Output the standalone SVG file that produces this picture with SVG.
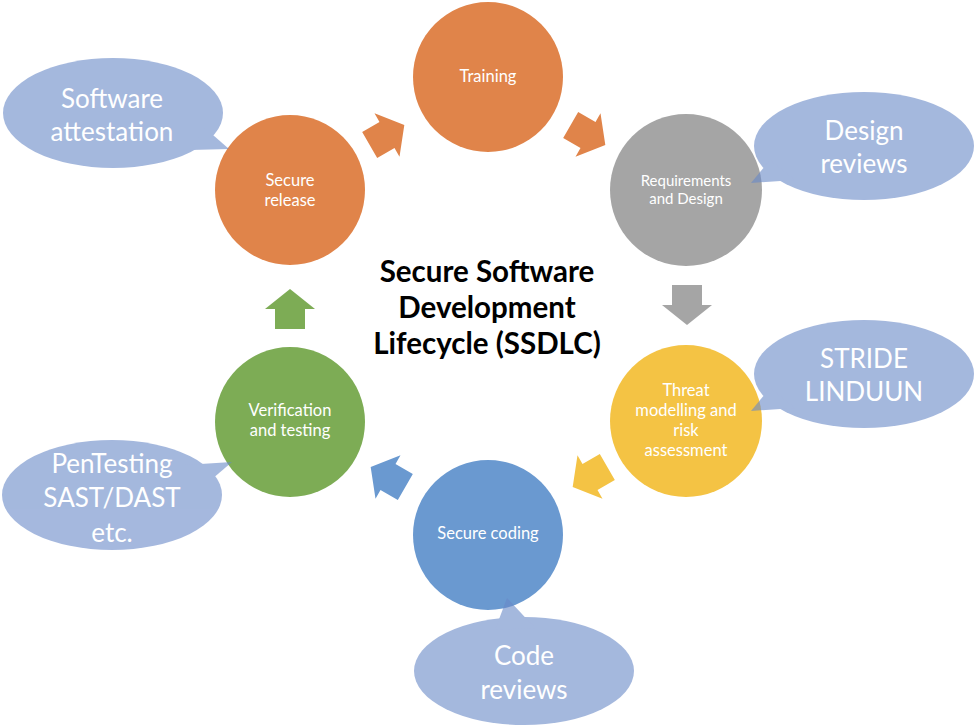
<svg xmlns="http://www.w3.org/2000/svg" xmlns:xlink="http://www.w3.org/1999/xlink" width="976" height="728" viewBox="0 0 976 728">
<style>
.node text{font-family:Lato,"Liberation Sans",sans-serif;fill:#fff;text-anchor:middle;font-size:16.5px}
.call text{font-family:Lato,"Liberation Sans",sans-serif;fill:#fff;text-anchor:middle;font-size:26px}
.bub{opacity:0.6;fill:#6989C8}
.title{font-family:Lato,"Liberation Sans",sans-serif;font-weight:bold;font-size:29.5px;fill:#000;text-anchor:middle}
</style>
<defs>
<path id="arr" d="M-20,-15 H0 V-25 L20,0 L0,25 V15 H-20 Z"/>
</defs>
<rect width="976" height="728" fill="#fff"/>
<g id="connectors">
<use xlink:href="#arr" transform="translate(387,135) rotate(-30)" fill="#E0844A"/>
<use xlink:href="#arr" transform="translate(588,135) rotate(30)" fill="#E0844A"/>
<use xlink:href="#arr" transform="translate(687,305) rotate(90)" fill="#A5A5A5"/>
<use xlink:href="#arr" transform="translate(590,477) rotate(150)" fill="#F4C344"/>
<use xlink:href="#arr" transform="translate(388,477) rotate(210)" fill="#6A99D0"/>
<use xlink:href="#arr" transform="translate(290,309) rotate(-90)" fill="#7DAC55"/>
</g>
<g id="training" class="node"><circle cx="488" cy="77" r="75" fill="#E0844A"/><text x="488" y="82">Training</text></g>
<g id="requirements" class="node"><circle cx="686" cy="190" r="76" fill="#A5A5A5"/><text x="686" y="186" style="font-size:15px">Requirements</text><text x="686" y="204" style="font-size:15px">and Design</text></g>
<g id="threat" class="node"><circle cx="686" cy="421" r="76" fill="#F4C344"/><text x="686" y="396">Threat</text><text x="686" y="416">modelling and</text><text x="686" y="436">risk</text><text x="686" y="456">assessment</text></g>
<g id="coding" class="node"><circle cx="488" cy="535" r="75" fill="#6A99D0"/><text x="488" y="539">Secure coding</text></g>
<g id="verification" class="node"><circle cx="290" cy="422" r="75" fill="#7DAC55"/><text x="290" y="416">Verification</text><text x="290" y="436">and testing</text></g>
<g id="release" class="node"><circle cx="290" cy="190" r="75" fill="#E0844A"/><text x="290" y="186">Secure</text><text x="290" y="206">release</text></g>
<g id="title"><text class="title" x="487" y="282">Secure Software</text><text class="title" x="487" y="318">Development</text><text class="title" x="487" y="354">Lifecycle (SSDLC)</text></g>
<g id="callout-attestation" class="call"><g class="bub"><ellipse cx="113" cy="113" rx="110" ry="55"/><polygon points="205,128 229,149 190,150"/></g><text x="112" y="108">Software</text><text x="112" y="141">attestation</text></g>
<g id="callout-design" class="call"><g class="bub"><ellipse cx="864" cy="146" rx="110" ry="54"/><polygon points="770,160 751,183 795,180"/></g><text x="864" y="140">Design</text><text x="864" y="173">reviews</text></g>
<g id="callout-stride" class="call"><g class="bub"><ellipse cx="864" cy="374" rx="110" ry="54"/><polygon points="770,388 751,411 795,408"/></g><text x="864" y="368">STRIDE</text><text x="864" y="401">LINDUUN</text></g>
<g id="callout-pentest" class="call"><g class="bub"><ellipse cx="112" cy="495" rx="110" ry="55"/><polygon points="185,465 232,462 205,485"/></g><text x="112" y="473">PenTesting</text><text x="112" y="507">SAST/DAST</text><text x="112" y="542">etc.</text></g>
<g id="callout-code" class="call"><g class="bub"><ellipse cx="524" cy="671" rx="110" ry="54"/><polygon points="495,630 507,598 535,628"/></g><text x="524" y="665">Code</text><text x="524" y="699">reviews</text></g>
</svg>
